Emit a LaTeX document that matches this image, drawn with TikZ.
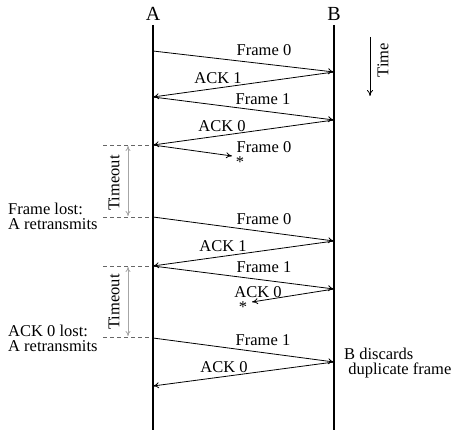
\documentclass[tikz,border=0pt]{standalone}
\usepackage{fontspec}
\setmainfont{Liberation Serif}
\usetikzlibrary{arrows.meta}
\begin{document}
\begin{tikzpicture}[x=1pt,y=-1pt,
  lbl/.style={inner sep=0pt,font=\fontsize{16.5}{15}\selectfont},
  hdr/.style={inner sep=0pt,font=\fontsize{20}{20}\selectfont},
  life/.style={line width=1.5pt},
  msg/.style={line width=0.8pt,-{To[length=6pt,width=6pt]}},
  guide/.style={dashed,line width=0.7pt,gray!80!black,dash pattern=on 4pt off 3pt},
  tout/.style={line width=0.8pt,gray!70,{To[length=5pt,width=5pt]}-{To[length=5pt,width=5pt]}}]
\useasboundingbox (0,0) rectangle (474,433);
% headers and lifelines
\node[hdr] (A) at (153,14) {A};
\node[hdr] (B) at (334,14) {B};
\coordinate (Atop) at (153,25); \coordinate (Abot) at (153,430);
\coordinate (Btop) at (334,25); \coordinate (Bbot) at (334,430);
\draw[life] (Atop) -- (Abot);
\draw[life] (Btop) -- (Bbot);
% time arrow
\coordinate (t1) at (370,37); \coordinate (t2) at (370,96);
\draw[msg] (t1) -- (t2);
\node[lbl,rotate=90] (time) at (383,60) {Time};
% points on lifelines
\coordinate (a1) at (153,51);  \coordinate (b1) at (334,72);
\coordinate (a2) at (153,97);  \coordinate (b2) at (334,120);
\coordinate (a3) at (153,145); \coordinate (l1) at (232,156);
\coordinate (a4) at (153,217); \coordinate (b4) at (334,241);
\coordinate (a5) at (153,266); \coordinate (b5) at (334,289);
\coordinate (l2) at (252,302);
\coordinate (a6) at (153,338); \coordinate (b6) at (334,362);
\coordinate (a7) at (153,386);
% messages
\draw[msg] (a1) -- (b1);
\node[lbl] (f0a) at (264,50) {Frame 0};
\draw[msg] (b1) -- (a2);
\node[lbl] (k1a) at (218,78) {ACK 1};
\draw[msg] (a2) -- (b2);
\node[lbl] (f1a) at (263,99) {Frame 1};
\draw[msg] (b2) -- (a3);
\node[lbl] (k0a) at (222,126) {ACK 0};
\draw[msg] (a3) -- (l1);
\node[lbl] (f0b) at (264,147) {Frame 0};
\node[lbl] (s1) at (240,162) {*};
\draw[msg] (a4) -- (b4);
\node[lbl] (f0c) at (264,219) {Frame 0};
\draw[msg] (b4) -- (a5);
\node[lbl] (k1b) at (223,246) {ACK 1};
\draw[msg] (a5) -- (b5);
\node[lbl] (f1b) at (264,267) {Frame 1};
\draw[msg] (b5) -- (l2);
\node[lbl] (k0b) at (258,292) {ACK 0};
\node[lbl] (s2) at (243,307) {*};
\draw[msg] (a6) -- (b6);
\node[lbl] (f1c) at (263,340) {Frame 1};
\draw[msg] (b6) -- (a7);
\node[lbl] (k0c) at (224,367) {ACK 0};
% timeout guides
\coordinate (g1) at (103,145); \coordinate (h1) at (149,145);
\coordinate (g2) at (103,217); \coordinate (h2) at (149,217);
\coordinate (g3) at (103,266); \coordinate (h3) at (149,266);
\coordinate (g4) at (103,337); \coordinate (h4) at (149,337);
\draw[guide] (g1) -- (h1);
\draw[guide] (g2) -- (h2);
\draw[guide] (g3) -- (h3);
\draw[guide] (g4) -- (h4);
\coordinate (u1) at (128,146); \coordinate (v1) at (128,216);
\coordinate (u2) at (128,267); \coordinate (v2) at (128,336);
\draw[tout] (u1) -- (v1);
\draw[tout] (u2) -- (v2);
\node[lbl,rotate=90] (to1) at (114,183) {Timeout};
\node[lbl,rotate=90] (to2) at (114,302) {Timeout};
% side notes
\node[lbl,align=left,anchor=north west] (n1) at (8,203) {Frame lost:\\A retransmits};
\node[lbl,align=left,anchor=north west] (n2) at (8,325) {ACK 0 lost:\\A retransmits};
\node[lbl,align=left,anchor=north west] (n3) at (344,348) {B discards\\\ duplicate frame};
\end{tikzpicture}
\end{document}
